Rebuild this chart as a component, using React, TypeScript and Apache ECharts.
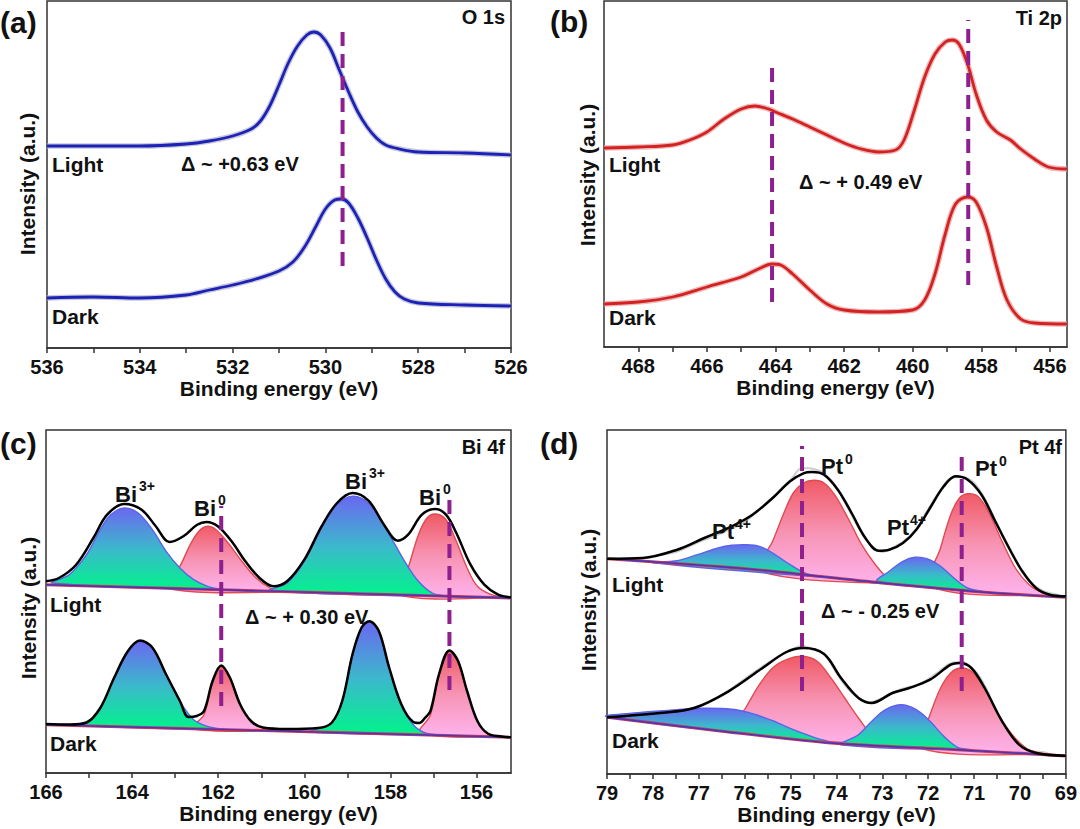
import React, { useEffect, useRef } from "react";
import * as echarts from "echarts";

// ---------- (a) O 1s : binding energy (eV) / intensity (a.u.) ----------
const O1S_LIGHT_E = [536, 535, 534, 533, 532.5, 532, 531.6, 531.4, 531.2, 531.0, 530.8, 530.6, 530.4, 530.25, 530.1, 529.9, 529.7, 529.5, 529.3, 529.1, 528.9, 528.7, 528.4, 528, 527, 526];
const O1S_LIGHT_I = [202, 202, 202, 204, 207, 212, 219, 227, 242, 263, 285, 302, 313, 316, 313, 300, 278, 256, 236, 221, 210, 203, 199, 196, 195, 193];
const O1S_DARK_E = [536, 535, 534, 533, 532.5, 532, 531.5, 531.0, 530.7, 530.45, 530.2, 530.0, 529.8, 529.65, 529.5, 529.3, 529.1, 528.9, 528.7, 528.5, 528.3, 528, 527, 526];
const O1S_DARK_I = [50, 51, 50, 53, 58, 63, 69, 77, 86, 101, 122, 139, 148, 149, 145, 130, 110, 88, 69, 56, 49, 45, 43, 42];
const O1S_SHIFT_E = [529.63];
const O1S_SHIFT_SPAN = [[82, 323]];

// ---------- (b) Ti 2p ----------
const TI_LIGHT_E = [469, 468, 467, 466.5, 466, 465.5, 465, 464.6, 464.2, 464, 463.5, 463, 462.5, 462, 461.5, 461, 460.5, 460.25, 459.95, 459.65, 459.35, 459.05, 458.85, 458.65, 458.4, 458.15, 457.85, 457.55, 457.15, 456.85, 456.45, 456.05, 455.5];
const TI_LIGHT_I = [199, 200, 202, 207, 215, 228, 238, 241, 238, 235, 228, 220, 212, 204, 198, 195, 197, 207, 237, 270, 293, 305, 307, 303, 283, 253, 227, 215, 207, 198, 188, 180, 178];
const TI_DARK_E = [469, 468, 467, 466, 465, 464.5, 464.1, 463.85, 463.5, 463, 462.5, 462, 461, 460, 459.65, 459.35, 459.05, 458.75, 458.4, 458.15, 457.85, 457.55, 457.25, 456.85, 456.45, 455.5];
const TI_DARK_I = [43, 45, 50, 60, 70, 78, 83, 82, 73, 57, 43, 37, 35, 37, 47, 73, 113, 143, 150, 145, 120, 80, 47, 28, 24, 23];
const TI_SHIFT_E = [464.1, 458.38];
const TI_SHIFT_SPAN = [[45, 282], [62, 327]];

// ---------- (c) Bi 4f : fitted components [eV, intensity] ----------
const BI_LIGHT_BASE = [[166, 188.3], [155.2, 175]];
const BI_LIGHT_3P_A = [[165.86, 190], [165.46, 198.3], [165.06, 218.3], [164.74, 243.3], [164.5, 258.3], [164.18, 265], [163.86, 260], [163.53, 243.3], [163.21, 221.7], [162.89, 205], [162.57, 193.3], [162.25, 186.7], [161.93, 183.3]];
const BI_LIGHT_0_A = [[163.21, 185], [162.89, 206.7], [162.65, 228.3], [162.45, 241.7], [162.25, 246.7], [162.05, 243.3], [161.77, 230], [161.45, 211.7], [161.12, 195], [160.8, 185], [160.48, 181]];
const BI_LIGHT_3P_B = [[160.8, 182.3], [160.4, 190], [160.0, 211.7], [159.6, 245], [159.28, 266.7], [158.88, 276.7], [158.47, 268.3], [158.07, 241.7], [157.67, 211.7], [157.35, 191.7], [157.03, 180], [156.71, 176.7]];
const BI_LIGHT_0_B = [[157.83, 178.3], [157.59, 205], [157.35, 238.3], [157.15, 255], [156.95, 259], [156.71, 253.3], [156.47, 231.7], [156.22, 205], [155.98, 186.7], [155.66, 178.3], [155.34, 175.7]];
const BI_LIGHT_ENV = [[166, 191.7], [165.7, 195], [165.3, 208.3], [164.9, 235], [164.58, 258.3], [164.18, 269], [163.78, 263.3], [163.45, 246.7], [163.13, 231], [162.81, 236.7], [162.49, 248.3], [162.27, 251], [162.01, 246.7], [161.69, 231.7], [161.37, 211.7], [161.04, 195], [160.72, 186.7], [160.4, 191.7], [160.0, 213.3], [159.6, 246.7], [159.24, 270], [158.88, 280], [158.51, 272.3], [158.15, 248.3], [157.83, 232.3], [157.59, 238.3], [157.27, 258.3], [156.96, 264], [156.71, 258.3], [156.47, 240], [156.14, 208.3], [155.82, 188.3], [155.5, 178.3], [155.2, 175.7]];

const BI_DARK_BASE = [[166, 48.3], [155.2, 35.7]];
const BI_DARK_3P_A = [[165.45, 47.6], [165.06, 50], [164.74, 65], [164.42, 95], [164.1, 121.7], [163.82, 131.7], [163.53, 125], [163.21, 98.3], [162.89, 71.7], [162.57, 53.3], [162.25, 46.7], [161.9, 43.5]];
const BI_DARK_0_A = [[162.6, 44.5], [162.33, 58.3], [162.13, 91.7], [161.93, 106.7], [161.73, 95], [161.49, 68.3], [161.24, 51.7], [160.96, 45], [160.7, 42.3]];
const BI_DARK_3P_B = [[159.9, 41], [159.68, 44.3], [159.36, 50], [159.12, 71.7], [158.88, 118.3], [158.67, 145], [158.49, 151], [158.27, 141.7], [158.03, 105], [157.75, 68.3], [157.47, 48.3], [157.19, 40], [156.9, 38]];
const BI_DARK_0_B = [[157.31, 40], [157.07, 58.3], [156.87, 98.3], [156.63, 121.7], [156.43, 111.7], [156.22, 81.7], [155.98, 51.7], [155.74, 39], [155.42, 36.3]];
const BI_DARK_ENV = [[166, 49], [165.45, 48.5], [165.06, 50.5], [164.74, 65], [164.42, 95], [164.1, 121.7], [163.82, 132.5], [163.53, 125.5], [163.21, 98.5], [162.89, 72], [162.69, 56], [162.5, 57], [162.33, 62], [162.13, 92], [161.93, 107.5], [161.73, 95.5], [161.49, 68.5], [161.24, 52], [160.96, 45.5], [160.4, 44], [159.68, 45], [159.36, 50.5], [159.12, 72], [158.88, 119], [158.67, 145.5], [158.49, 151.7], [158.27, 142], [158.03, 105.5], [157.75, 69], [157.47, 51], [157.33, 50], [157.2, 55], [157.07, 62], [156.87, 99], [156.63, 122.5], [156.43, 112], [156.22, 82], [155.98, 52], [155.74, 39.5], [155.42, 36.5], [155.2, 35.7]];
const BI_SHIFT_E = [161.93, 156.63];
const BI_SHIFT_SPAN = [[67, 267], [83, 280]];

// ---------- (d) Pt 4f ----------
const PT_LIGHT_BASE = [[79, 215.3], [75.98, 205.3], [73.0, 191], [70.84, 182], [69, 176.7]];
const PT_LIGHT_4P_A = [[77.99, 211.3], [77.47, 213.3], [77.03, 219.3], [76.58, 226], [76.28, 228.7], [75.98, 229.3], [75.68, 227.7], [75.39, 221], [75.01, 209.3], [74.64, 200], [74.27, 196.7]];
const PT_LIGHT_0_A = [[75.68, 202.7], [75.39, 232.7], [75.16, 259.3], [74.94, 281], [74.72, 291], [74.49, 293.7], [74.27, 291], [74.04, 279.3], [73.75, 256], [73.45, 229.3], [73.15, 209.3], [72.85, 194.3], [72.55, 188.7], [72.33, 188.5]];
const PT_LIGHT_4P_B = [[73.11, 192.7], [72.85, 202.7], [72.55, 212.7], [72.29, 216.7], [72.03, 215.3], [71.73, 207.7], [71.44, 196], [71.14, 186], [70.84, 182.7]];
const PT_LIGHT_0_B = [[71.96, 187.7], [71.73, 226], [71.51, 259.3], [71.32, 276], [71.14, 280.3], [70.92, 277.7], [70.69, 262.7], [70.39, 232.7], [70.1, 206], [69.8, 189.3], [69.5, 181], [69.2, 177.7]];
const PT_LIGHT_ENV = [[79, 215.3], [78.22, 216], [77.47, 224.3], [76.88, 236], [76.28, 247.7], [75.83, 259.3], [75.39, 276], [75.01, 292.7], [74.72, 300.7], [74.53, 302], [74.27, 299.3], [73.97, 284.3], [73.67, 261], [73.37, 236], [73.08, 223.3], [72.85, 224.3], [72.55, 231], [72.26, 244.3], [71.96, 266], [71.66, 287.7], [71.4, 297.7], [71.14, 294.3], [70.84, 279.3], [70.54, 252.7], [70.24, 226], [69.95, 202.7], [69.65, 186], [69.35, 179.3], [69, 177.7]];
const PT_LIGHT_RAW = [[79, 216], [78.5, 214], [78.0, 218], [77.5, 222], [77.0, 232], [76.5, 241], [76.0, 252], [75.5, 272], [75.0, 294], [74.75, 306], [74.5, 305], [74.25, 300], [74.0, 287], [73.75, 266], [73.5, 245], [73.25, 229], [73.0, 222], [72.75, 227], [72.5, 234], [72.25, 246], [72.0, 265], [71.75, 283], [71.5, 296], [71.25, 297], [71.0, 291], [70.75, 274], [70.5, 250], [70.25, 228], [70.0, 207], [69.75, 191], [69.5, 183], [69.25, 180], [69, 177]];

const PT_DARK_BASE = [[79, 56.7], [76.58, 43.3], [74.12, 31], [71.36, 24.3], [69, 18]];
const PT_DARK_4P_A = [[79, 57.3], [78.22, 61.7], [77.47, 64.3], [76.88, 65.7], [76.28, 64.7], [75.83, 60.3], [75.39, 53.3], [74.94, 44.3], [74.49, 36.7], [74.12, 31.3]];
const PT_DARK_0_A = [[76.28, 44.7], [75.98, 66], [75.68, 89.3], [75.39, 106], [75.09, 114.3], [74.75, 117.7], [74.42, 112.7], [74.12, 96], [73.82, 76], [73.52, 56], [73.23, 39.3], [72.93, 31], [72.63, 27.7]];
const PT_DARK_4P_B = [[73.9, 29.3], [73.52, 39.3], [73.23, 52.7], [72.93, 64.3], [72.59, 69.3], [72.26, 64.3], [71.96, 52.7], [71.66, 37.7], [71.36, 26.7], [71.06, 24.3]];
const PT_DARK_0_B = [[72.18, 26], [71.96, 59.3], [71.73, 86], [71.51, 101], [71.3, 106], [71.06, 102.7], [70.77, 86], [70.47, 59.3], [70.17, 39.3], [69.87, 26], [69.57, 21], [69.28, 19.3]];
const PT_DARK_ENV = [[79, 56.7], [77.85, 61], [77.1, 66], [76.35, 82.7], [75.61, 106], [75.09, 122], [74.72, 126], [74.27, 120], [73.9, 96], [73.52, 76], [73.23, 71], [72.78, 81], [72.41, 86], [71.96, 94.3], [71.51, 109.3], [71.32, 111], [71.06, 106], [70.77, 86], [70.39, 52.7], [70.02, 29.3], [69.65, 21], [69, 18.3]];
const PT_DARK_RAW = [[79, 58], [78.5, 59], [78.0, 62], [77.5, 63], [77.0, 68], [76.5, 79], [76.0, 95], [75.5, 111], [75.0, 124], [74.75, 128], [74.5, 125], [74.25, 119], [74.0, 101], [73.75, 85], [73.5, 76], [73.25, 72], [73.0, 76], [72.75, 82], [72.5, 86], [72.25, 89], [72.0, 95], [71.75, 103], [71.5, 111], [71.25, 112], [71.0, 104], [70.75, 87], [70.5, 61], [70.25, 38], [70.0, 28], [69.75, 23], [69.5, 22], [69.25, 19], [69, 19]];
const PT_SHIFT_E = [74.75, 71.27];
const PT_SHIFT_SPAN = [[83, 328], [83, 318]];

// ---------- axis ticks ----------
const A_MAJOR = [526, 528, 530, 532, 534, 536];
const A_MINOR = [527, 529, 531, 533, 535];
const B_MAJOR = [456, 458, 460, 462, 464, 466, 468];
const B_MINOR = [457, 459, 461, 463, 465, 467];
const C_MAJOR = [156, 158, 160, 162, 164, 166];
const C_MINOR = [157, 159, 161, 163, 165];
const D_MAJOR = [69, 70, 71, 72, 73, 74, 75, 76, 77, 78, 79];
const D_MINOR = [69.5, 70.5, 71.5, 72.5, 73.5, 74.5, 75.5, 76.5, 77.5, 78.5];

const FONT = '"Liberation Sans", Arial, Helvetica, sans-serif';
const AXIS_COLOR = "#333";
const DASH_COLOR = "#8e1f8e";

const PANELS = [
  { left: 47, top: 1, width: 464, height: 347, min: 526, max: 536, major: A_MAJOR, minor: A_MINOR },
  { left: 604, top: 1, width: 463, height: 346, min: 455.5, max: 469, major: B_MAJOR, minor: B_MINOR },
  { left: 46, top: 430, width: 465, height: 343, min: 155.2, max: 166, major: C_MAJOR, minor: C_MINOR },
  { left: 607, top: 430, width: 462, height: 344, min: 69, max: 79, major: D_MAJOR, minor: D_MINOR },
];

const zip = (xs: number[], ys: number[]) => xs.map((x, i) => [x, ys[i]]);

const gradient = (stops: [number, string][]) =>
  new echarts.graphic.LinearGradient(0, 0, 0, 1, stops.map(([offset, color]) => ({ offset, color })));

const blueFill = () => gradient([[0, "#6a68f0"], [0.5, "#3cb8cc"], [1, "#00f48a"]]);
const redFill = () => gradient([[0, "#f05a66"], [0.5, "#f794b4"], [1, "#ffb4ee"]]);

function lineSeries(idx: number, data: number[][], color: string, width: number, z: number, smooth: number | boolean = 0.35, extra: any = {}) {
  return {
    type: "line",
    xAxisIndex: idx,
    yAxisIndex: idx,
    data,
    smooth,
    symbol: "none",
    showSymbol: false,
    silent: true,
    z,
    lineStyle: { color, width, ...extra },
  };
}

function shiftLines(idx: number, es: number[], spans: number[][]) {
  return es.map((e, i) =>
    lineSeries(idx, [[e, spans[i][0]], [e, spans[i][1]]], DASH_COLOR, 4, 10, false, { type: [14, 8], cap: "butt" })
  );
}

function peakSeries(idx: number, peaks: { pts: number[][]; kind: string }[]) {
  return {
    type: "custom",
    coordinateSystem: "cartesian2d",
    xAxisIndex: idx,
    yAxisIndex: idx,
    silent: true,
    z: 2,
    data: peaks.map((p, i) => [p.pts[0][0], p.pts[0][1], i]),
    encode: { x: 0, y: 1 },
    renderItem: (_params: any, api: any) => {
      const pk = peaks[api.value(2)];
      const points = pk.pts.map((q) => api.coord(q));
      const blue = pk.kind === "blue";
      return {
        type: "polygon",
        shape: { points, smooth: 0.35 },
        style: {
          fill: blue ? blueFill() : redFill(),
          stroke: blue ? "#5a64e6" : "#e04a50",
          lineWidth: 1.4,
        },
      };
    },
  };
}

function txt(text: string, x: number, y: number, size: number, align = "left", extra: any = {}) {
  return {
    type: "text",
    x,
    y,
    z: 100,
    silent: true,
    ...extra,
    style: {
      text,
      font: `bold ${size}px ${FONT}`,
      fill: "#111",
      align,
      verticalAlign: "middle",
    },
  };
}

function buildOption() {
  const grid = PANELS.map((p) => ({
    left: p.left,
    top: p.top,
    width: p.width,
    height: p.height,
    show: true,
    borderColor: AXIS_COLOR,
    borderWidth: 1.5,
    backgroundColor: "transparent",
  }));

  const xAxis = PANELS.map((p, i) => ({
    type: "value",
    gridIndex: i,
    min: p.min,
    max: p.max,
    inverse: true,
    axisLine: { show: true, lineStyle: { color: AXIS_COLOR, width: 1.5 } },
    axisTick: {
      show: true,
      inside: false,
      length: 5,
      customValues: [...p.major, ...p.minor],
      lineStyle: { color: AXIS_COLOR, width: 1.5 },
    },
    axisLabel: {
      customValues: p.major,
      margin: 9,
      color: "#111",
      fontSize: 20,
      fontWeight: "bold",
      fontFamily: FONT,
    },
    splitLine: { show: false },
    name: "Binding energy (eV)",
    nameLocation: "middle",
    nameGap: 30,
    nameTextStyle: { color: "#111", fontSize: 21, fontWeight: "bold", fontFamily: FONT },
  }));

  const yAxis = PANELS.map((p, i) => ({
    type: "value",
    gridIndex: i,
    min: 0,
    max: p.height,
    show: false,
  }));

  const series: any[] = [];

  // (a) O 1s
  series.push(lineSeries(0, zip(O1S_LIGHT_E, O1S_LIGHT_I), "rgba(185,185,205,0.8)", 5.5, 1));
  series.push(lineSeries(0, zip(O1S_DARK_E, O1S_DARK_I), "rgba(185,185,205,0.8)", 5.5, 1));
  series.push(lineSeries(0, zip(O1S_LIGHT_E, O1S_LIGHT_I), "#1c22b8", 2.8, 4));
  series.push(lineSeries(0, zip(O1S_DARK_E, O1S_DARK_I), "#1c22b8", 2.8, 4));
  series.push(...shiftLines(0, O1S_SHIFT_E, O1S_SHIFT_SPAN));

  // (b) Ti 2p
  series.push(lineSeries(1, zip(TI_LIGHT_E, TI_LIGHT_I), "rgba(230,170,170,0.8)", 5.5, 1));
  series.push(lineSeries(1, zip(TI_DARK_E, TI_DARK_I), "rgba(230,170,170,0.8)", 5.5, 1));
  series.push(lineSeries(1, zip(TI_LIGHT_E, TI_LIGHT_I), "#d42222", 2.8, 4));
  series.push(lineSeries(1, zip(TI_DARK_E, TI_DARK_I), "#d42222", 2.8, 4));
  series.push(...shiftLines(1, TI_SHIFT_E, TI_SHIFT_SPAN));

  // (c) Bi 4f — red components first so the blue ones sit on top
  series.push(
    peakSeries(2, [
      { pts: BI_LIGHT_0_A, kind: "red" },
      { pts: BI_LIGHT_0_B, kind: "red" },
      { pts: BI_LIGHT_3P_A, kind: "blue" },
      { pts: BI_LIGHT_3P_B, kind: "blue" },
      { pts: BI_DARK_0_A, kind: "red" },
      { pts: BI_DARK_0_B, kind: "red" },
      { pts: BI_DARK_3P_A, kind: "blue" },
      { pts: BI_DARK_3P_B, kind: "blue" },
    ])
  );
  series.push(lineSeries(2, BI_LIGHT_BASE, "#d23a50", 3, 3, false));
  series.push(lineSeries(2, BI_LIGHT_BASE, "#3a3ac8", 1.4, 3, false));
  series.push(lineSeries(2, BI_DARK_BASE, "#d23a50", 3, 3, false));
  series.push(lineSeries(2, BI_DARK_BASE, "#3a3ac8", 1.4, 3, false));
  series.push(lineSeries(2, BI_LIGHT_ENV, "#000", 2.5, 5));
  series.push(lineSeries(2, BI_DARK_ENV, "#000", 2.5, 5));
  series.push(...shiftLines(2, BI_SHIFT_E, BI_SHIFT_SPAN));

  // (d) Pt 4f
  series.push(lineSeries(3, PT_LIGHT_RAW, "rgba(200,200,200,0.9)", 2, 1));
  series.push(lineSeries(3, PT_DARK_RAW, "rgba(200,200,200,0.9)", 2, 1));
  series.push(
    peakSeries(3, [
      { pts: PT_LIGHT_0_A, kind: "red" },
      { pts: PT_LIGHT_0_B, kind: "red" },
      { pts: PT_LIGHT_4P_A, kind: "blue" },
      { pts: PT_LIGHT_4P_B, kind: "blue" },
      { pts: PT_DARK_0_A, kind: "red" },
      { pts: PT_DARK_0_B, kind: "red" },
      { pts: PT_DARK_4P_A, kind: "blue" },
      { pts: PT_DARK_4P_B, kind: "blue" },
    ])
  );
  series.push(lineSeries(3, PT_LIGHT_BASE, "#d23a50", 3, 3, 0.3));
  series.push(lineSeries(3, PT_LIGHT_BASE, "#3a3ac8", 1.4, 3, 0.3));
  series.push(lineSeries(3, PT_DARK_BASE, "#d23a50", 3, 3, 0.3));
  series.push(lineSeries(3, PT_DARK_BASE, "#3a3ac8", 1.4, 3, 0.3));
  series.push(lineSeries(3, PT_LIGHT_ENV, "#000", 2.5, 5));
  series.push(lineSeries(3, PT_DARK_ENV, "#000", 2.5, 5));
  series.push(...shiftLines(3, PT_SHIFT_E, PT_SHIFT_SPAN));

  const yName = (x: number, y: number) =>
    txt("Intensity (a.u.)", x, y, 21, "center", { rotation: Math.PI / 2 });

  const graphic = [
    // panel tags
    txt("(a)", 0, 22, 30),
    txt("(b)", 550, 21, 30),
    txt("(c)", 0, 443, 30),
    txt("(d)", 540, 443, 30),
    // core levels
    txt("O 1s", 505, 17, 20, "right"),
    txt("Ti 2p", 1062, 18, 20, "right"),
    txt("Bi 4f", 505, 447, 20, "right"),
    txt("Pt 4f", 1062, 447, 20, "right"),
    // y axis titles
    yName(27, 184),
    yName(587, 175),
    yName(28, 608),
    yName(588, 600),
    // sample labels
    txt("Light", 52, 164, 21),
    txt("Dark", 52, 316, 21),
    txt("Light", 609, 164, 21),
    txt("Dark", 609, 317, 21),
    txt("Light", 50, 604, 21),
    txt("Dark", 50, 743, 21),
    txt("Light", 612, 584, 21),
    txt("Dark", 612, 740, 21),
    // shifts
    txt("Δ ~ +0.63 eV", 181, 164, 20),
    txt("Δ ~ + 0.49 eV", 799, 182, 20),
    txt("Δ ~ + 0.30 eV", 245, 617, 20),
    txt("Δ ~ - 0.25 eV", 821, 611, 20),
    // component labels
    txt("Bi", 115, 494, 22), txt("3+", 139, 486, 14),
    txt("Bi", 194, 508, 22), txt("0", 218, 500, 14),
    txt("Bi", 345, 481, 22), txt("3+", 369, 473, 14),
    txt("Bi", 419, 497, 22), txt("0", 443, 489, 14),
    txt("Pt", 821, 466, 22), txt("0", 845, 459, 14),
    txt("Pt", 975, 468, 22), txt("0", 999, 461, 14),
    txt("Pt", 712, 531, 22), txt("4+", 735, 524, 14),
    txt("Pt", 887, 527, 22), txt("4+", 910, 520, 14),
  ];

  return {
    animation: false,
    backgroundColor: "#ffffff",
    grid,
    xAxis,
    yAxis,
    series,
    graphic,
  };
}

export default function App() {
  const ref = useRef<HTMLDivElement>(null);
  useEffect(() => {
    if (!ref.current) return;
    const chart = echarts.init(ref.current, undefined, { renderer: "svg" });
    chart.setOption(buildOption() as any);
    return () => chart.dispose();
  }, []);
  return (
    <div
      ref={ref}
      style={{ position: "fixed", left: 0, top: 0, width: 1080, height: 829, background: "#fff" }}
    />
  );
}
